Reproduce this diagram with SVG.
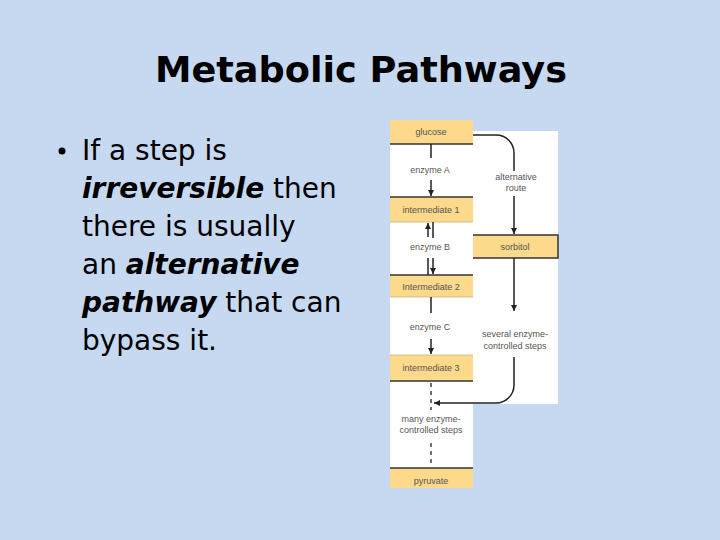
<svg xmlns="http://www.w3.org/2000/svg" width="720" height="540" viewBox="0 0 720 540">
<defs>
<style>
.title{font-family:"DejaVu Sans",sans-serif;font-weight:bold;font-size:36px;fill:#000}
.body{font-family:"DejaVu Sans",sans-serif;font-size:28px;fill:#000}
.em{font-weight:bold;font-style:italic}
.lbl{font-family:"Liberation Sans",Arial,sans-serif;font-size:9px;fill:#555;text-anchor:middle}
.box{fill:#fcd98b}
.panel{fill:#fff}
.ln{stroke:#222;stroke-width:1.5;fill:none}
.dk{stroke:#333;stroke-width:1.5}
.lt{stroke:#c9b47a;stroke-width:0.8}
.dash{stroke:#222;stroke-width:1.3;stroke-dasharray:4 4;fill:none}
</style>
<marker id="ah" markerWidth="8" markerHeight="8" refX="6" refY="4" orient="auto" markerUnits="userSpaceOnUse">
<path d="M0,1 L6,4 L0,7 Z" fill="#222"/>
</marker>
</defs>
<rect width="720" height="540" fill="#c6d9f0"/>
<text class="title" x="361" y="82" text-anchor="middle" textLength="412" lengthAdjust="spacingAndGlyphs">Metabolic Pathways</text>
<g id="bullet">
<circle cx="62" cy="151" r="3.5" fill="#000"/>
<text class="body" x="82" y="160">If a step is</text>
<text class="body" x="82" y="198"><tspan class="em">irreversible</tspan> then</text>
<text class="body" x="82" y="236">there is usually</text>
<text class="body" x="82" y="274">an <tspan class="em">alternative</tspan></text>
<text class="body" x="82" y="312"><tspan class="em">pathway</tspan> that can</text>
<text class="body" x="82" y="350">bypass it.</text>
</g>
<rect class="panel" x="390" y="120" width="83" height="368"/>
<rect class="panel" x="473" y="131" width="85" height="273"/>
<g id="glucose">
<rect class="box" x="390" y="120" width="83" height="24"/>
<line class="dk" x1="390" y1="144" x2="473" y2="144"/>
<text class="lbl" x="431" y="135">glucose</text>
</g>
<g id="intermediate1">
<rect class="box" x="390" y="197" width="83" height="25"/>
<line class="dk" x1="390" y1="197" x2="473" y2="197"/>
<line class="lt" x1="390" y1="222" x2="473" y2="222"/>
<text class="lbl" x="431" y="213">intermediate 1</text>
</g>
<g id="sorbitol">
<rect class="box" x="473" y="235" width="85" height="23"/>
<path class="dk" d="M473,235 H558 V258 H473" fill="none"/>
<text class="lbl" x="515" y="250">sorbitol</text>
</g>
<g id="intermediate2">
<rect class="box" x="390" y="275" width="83" height="22"/>
<line class="dk" x1="390" y1="275" x2="473" y2="275"/>
<line class="lt" x1="390" y1="297" x2="473" y2="297"/>
<text class="lbl" x="431" y="290">Intermediate 2</text>
</g>
<g id="intermediate3">
<rect class="box" x="390" y="355" width="83" height="26"/>
<line class="lt" x1="390" y1="355" x2="473" y2="355"/>
<line class="dk" x1="390" y1="381" x2="473" y2="381"/>
<text class="lbl" x="431" y="371">intermediate 3</text>
</g>
<g id="pyruvate">
<rect class="box" x="390" y="468" width="83" height="20"/>
<line class="dk" x1="390" y1="468" x2="473" y2="468"/>
<text class="lbl" x="431" y="484">pyruvate</text>
</g>
<g id="labels">
<text class="lbl" x="430" y="173">enzyme A</text>
<text class="lbl" x="430" y="250">enzyme B</text>
<text class="lbl" x="430" y="330">enzyme C</text>
<text class="lbl" x="431" y="422">many enzyme-</text>
<text class="lbl" x="431" y="433">controlled steps</text>
<text class="lbl" x="516" y="180">alternative</text>
<text class="lbl" x="516" y="191">route</text>
<text class="lbl" x="515" y="337">several enzyme-</text>
<text class="lbl" x="515" y="349">controlled steps</text>
</g>
<g id="connectors">
<line class="ln" x1="431" y1="144" x2="431" y2="158"/>
<line class="ln" x1="431" y1="180" x2="431" y2="196" marker-end="url(#ah)"/>
<line class="ln" x1="428" y1="237" x2="428" y2="223" marker-end="url(#ah)"/>
<line class="ln" x1="433" y1="222" x2="433" y2="238"/>
<line class="ln" x1="428" y1="258" x2="428" y2="275"/>
<line class="ln" x1="433" y1="258" x2="433" y2="274" marker-end="url(#ah)"/>
<line class="ln" x1="431" y1="297" x2="431" y2="313"/>
<line class="ln" x1="431" y1="339" x2="431" y2="354" marker-end="url(#ah)"/>
<line class="dash" x1="431" y1="383" x2="431" y2="410"/>
<line class="dash" x1="431" y1="443" x2="431" y2="467"/>
<path class="ln" d="M473,135 H496 A18,18 0 0 1 514,153 V171"/>
<line class="ln" x1="514" y1="196" x2="514" y2="234" marker-end="url(#ah)"/>
<line class="ln" x1="514" y1="258" x2="514" y2="311" marker-end="url(#ah)"/>
<path class="ln" d="M514,357 V385 A18,18 0 0 1 496,403 H434" marker-end="url(#ah)"/>
</g>
</svg>
